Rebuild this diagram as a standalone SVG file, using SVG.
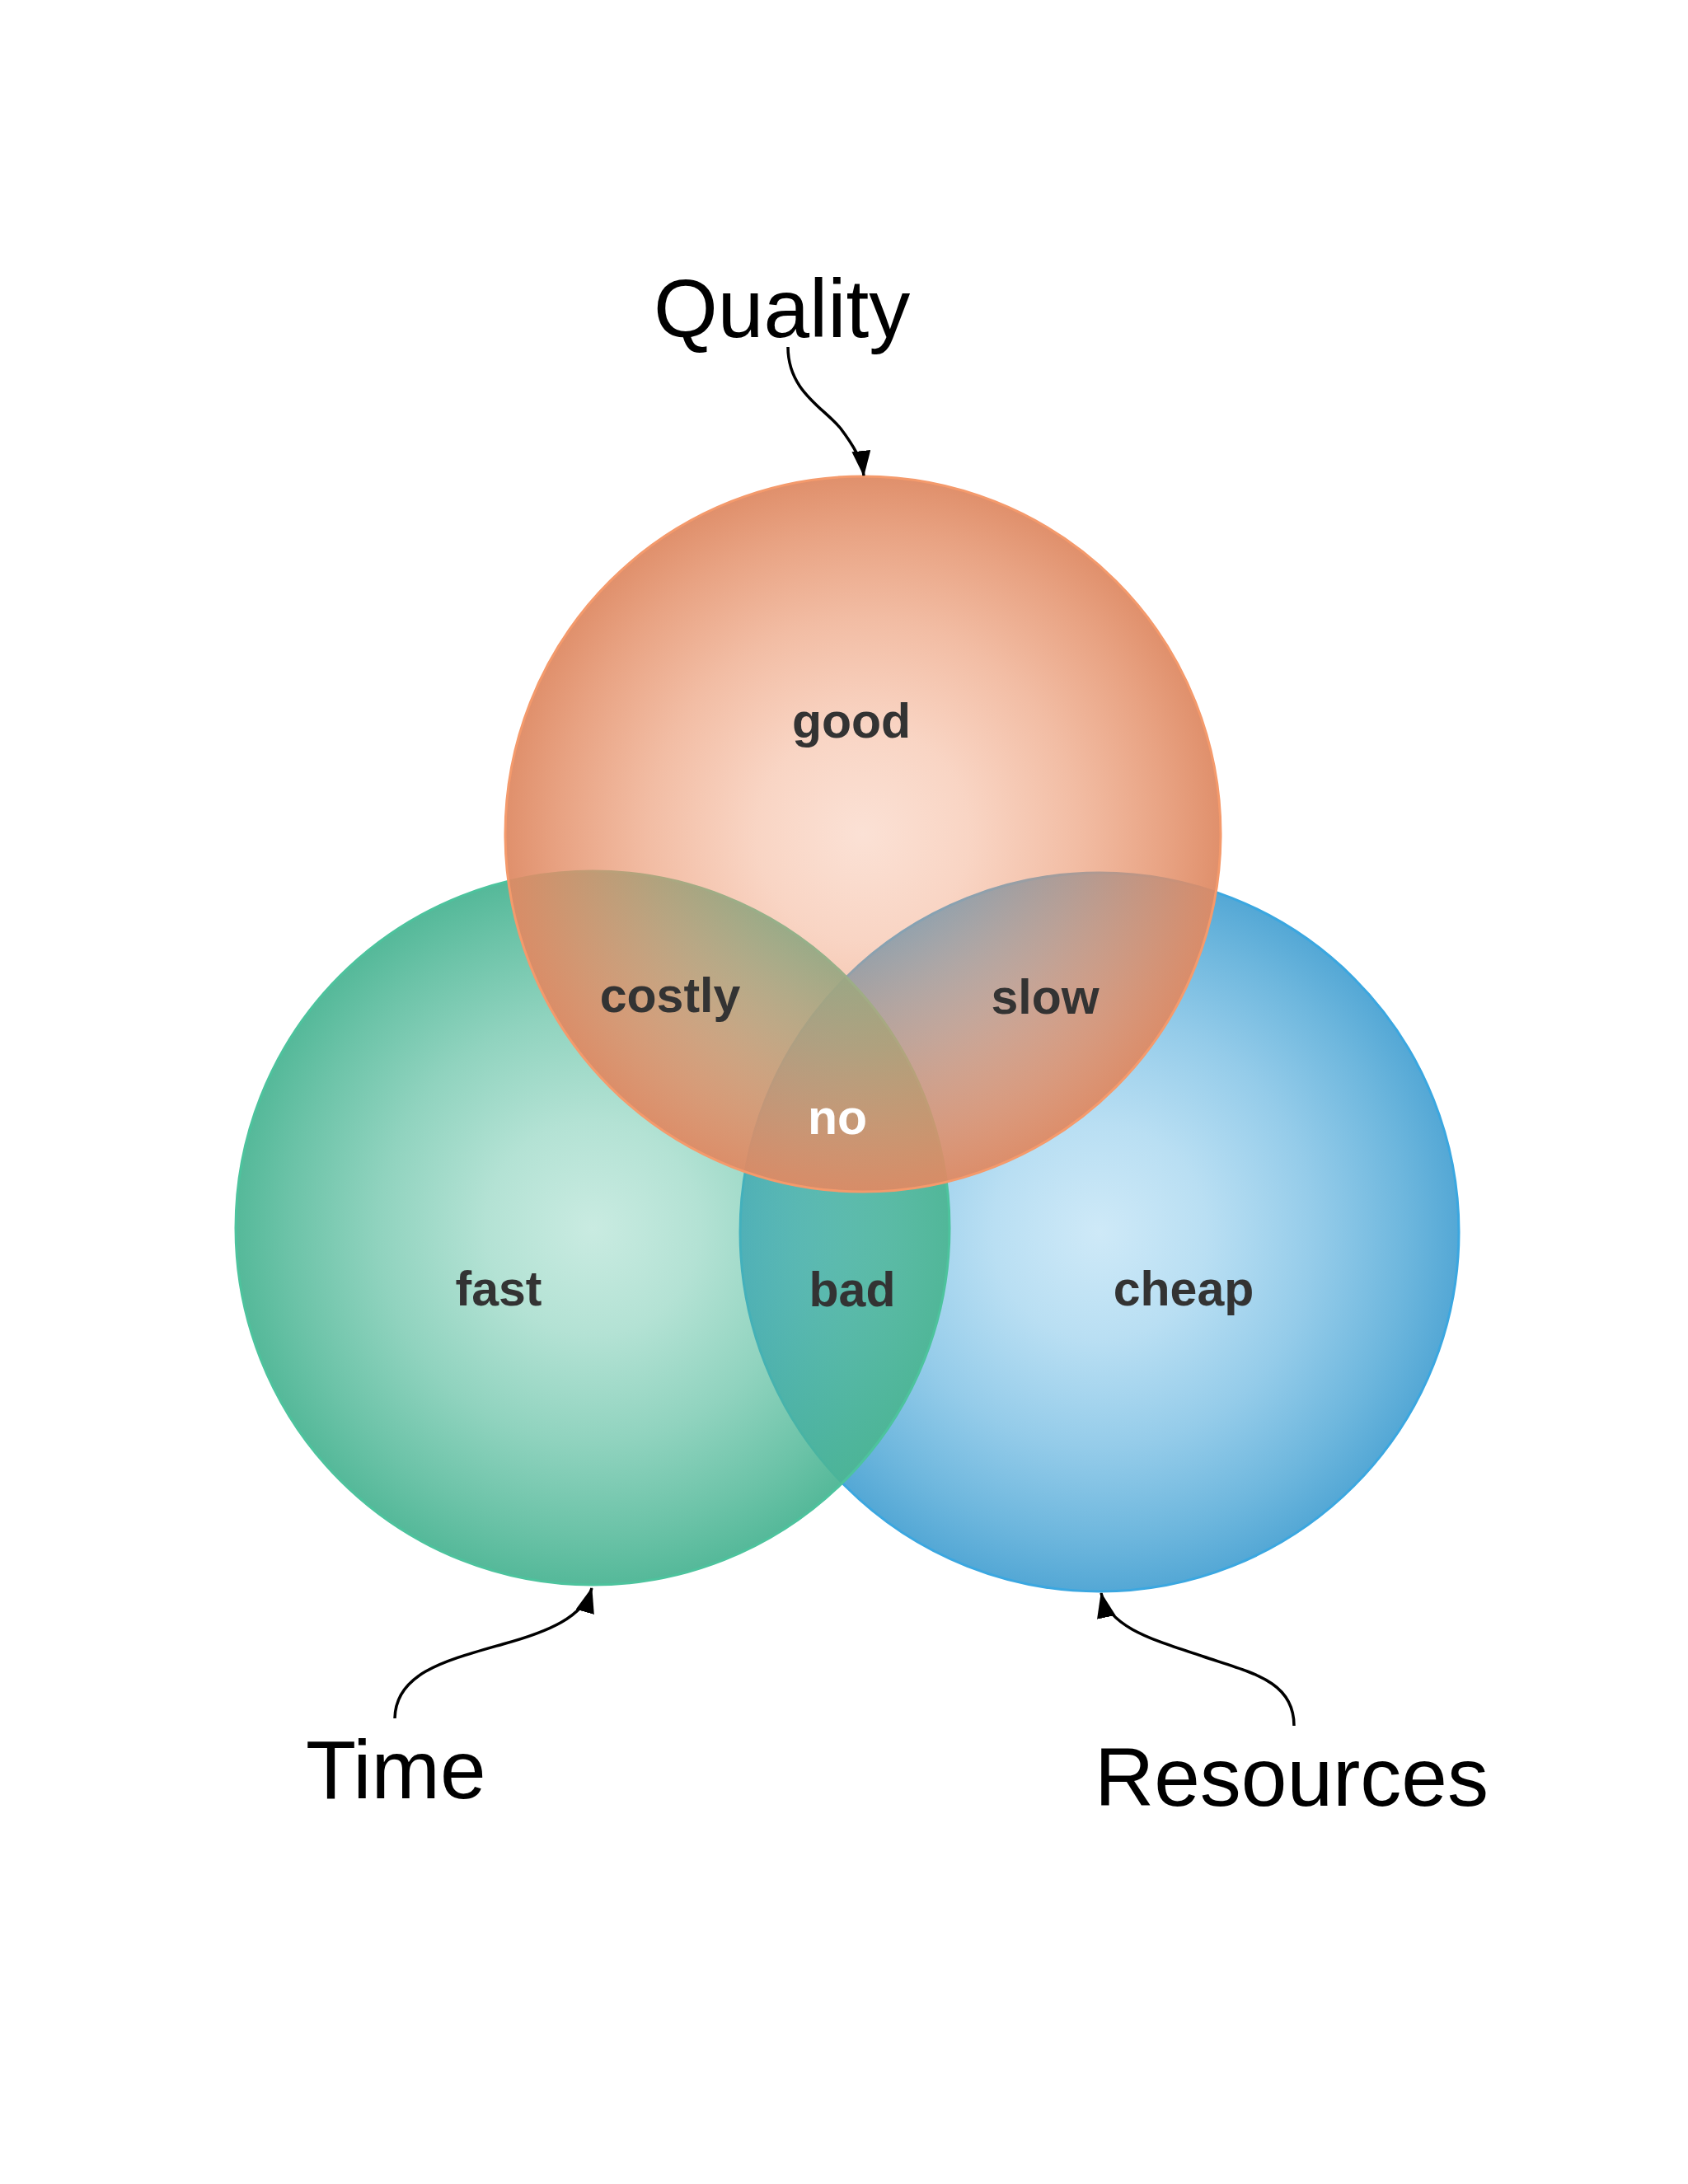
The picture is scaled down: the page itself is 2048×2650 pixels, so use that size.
<svg xmlns="http://www.w3.org/2000/svg" width="2048" height="2650" viewBox="0 0 2048 2650">
<style>
.lbl{font-family:"Liberation Sans",Arial,sans-serif;font-size:100px;fill:#000}
.in{font-family:"Liberation Sans",Arial,sans-serif;font-size:59px;font-weight:bold;fill:#333333;text-anchor:middle}
.conn{fill:none;stroke:#000;stroke-width:3.5}
</style>
<defs>
<radialGradient id="gq">
<stop offset="0" stop-color="#f29b73" stop-opacity="0.3"/>
<stop offset="0.3" stop-color="#f09a72" stop-opacity="0.42"/>
<stop offset="0.6" stop-color="#ea946c" stop-opacity="0.62"/>
<stop offset="0.85" stop-color="#e38e67" stop-opacity="0.82"/>
<stop offset="1" stop-color="#de8a64" stop-opacity="0.95"/>
</radialGradient>
<radialGradient id="gt">
<stop offset="0" stop-color="#4bbc9b" stop-opacity="0.3"/>
<stop offset="0.3" stop-color="#4bba99" stop-opacity="0.42"/>
<stop offset="0.6" stop-color="#4cb897" stop-opacity="0.62"/>
<stop offset="0.85" stop-color="#4cb695" stop-opacity="0.82"/>
<stop offset="1" stop-color="#4cb594" stop-opacity="0.95"/>
</radialGradient>
<radialGradient id="gr">
<stop offset="0" stop-color="#5cb6e6" stop-opacity="0.3"/>
<stop offset="0.3" stop-color="#58b2e2" stop-opacity="0.42"/>
<stop offset="0.6" stop-color="#53acdc" stop-opacity="0.62"/>
<stop offset="0.85" stop-color="#4ea7d6" stop-opacity="0.82"/>
<stop offset="1" stop-color="#4ba3d3" stop-opacity="0.95"/>
</radialGradient>
<marker id="ah" markerUnits="userSpaceOnUse" markerWidth="32" markerHeight="24" refX="30" refY="11.5" orient="auto">
<path d="M0,0 L31,11.5 L0,23 z" fill="#000"/>
</marker>
</defs>
<rect width="2048" height="2650" fill="#ffffff"/>
<g id="resources">
<circle cx="1334" cy="1495" r="436" fill="url(#gr)" stroke="#3ba7e0" stroke-width="3"/>
</g>
<g id="time">
<circle cx="719" cy="1490" r="433" fill="url(#gt)" stroke="#4dc39d" stroke-width="3"/>
</g>
<g id="quality">
<circle cx="1047" cy="1012" r="434" fill="url(#gq)" stroke="#f49a6c" stroke-width="3"/>
</g>
<g id="region-labels">
<text class="in" x="1033" y="895">good</text>
<text class="in" x="813" y="1228">costly</text>
<text class="in" x="1268" y="1230">slow</text>
<text class="in" x="1016" y="1376" style="fill:#ffffff">no</text>
<text class="in" x="605" y="1584">fast</text>
<text class="in" x="1034" y="1585">bad</text>
<text class="in" x="1436" y="1584">cheap</text>
</g>
<g id="labels">
<text class="lbl" x="793" y="409">Quality</text>
<text class="lbl" x="371" y="2182">Time</text>
<text class="lbl" x="1328" y="2191">Resources</text>
</g>
<g id="connectors">
<path class="conn" d="M956,421 C956,475 1000,495 1020,520 C1035,540 1046,558 1048,577" marker-end="url(#ah)"/>
<path class="conn" d="M479,2085 C480,2030 540,2015 610,1995 C665,1980 708,1962 718,1927" marker-end="url(#ah)"/>
<path class="conn" d="M1570,2094 C1570,2040 1520,2030 1460,2010 C1400,1990 1345,1975 1336,1933" marker-end="url(#ah)"/>
</g>
</svg>
